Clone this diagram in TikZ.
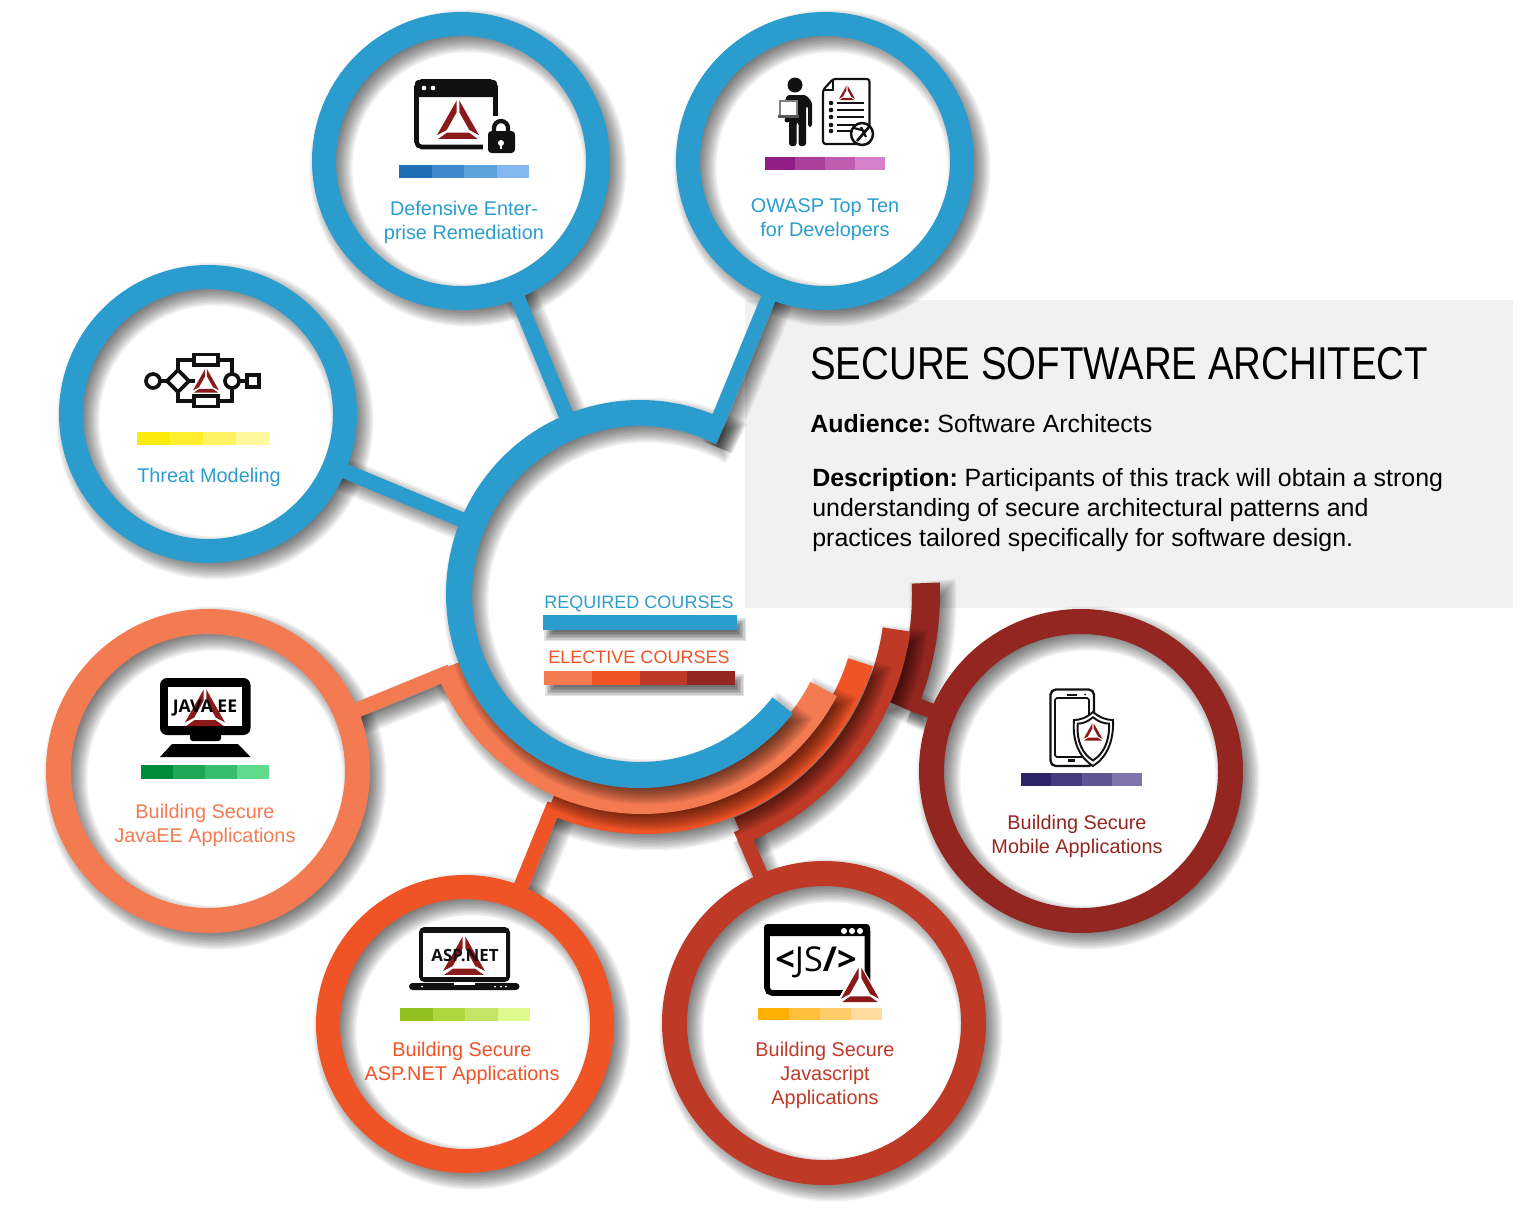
\documentclass[tikz,border=0pt]{standalone}
\usepackage{fontspec}
\setmainfont{Liberation Sans}
\newfontfamily\titlefont[FakeStretch=0.835]{Liberation Sans}
\newfontfamily\iconfont{Open Sans}
\definecolor{cBlue}{HTML}{2A9DCE}
\definecolor{cLight}{HTML}{F47A52}
\definecolor{cOrange}{HTML}{EF5326}
\definecolor{cRed}{HTML}{BE3A27}
\definecolor{cDark}{HTML}{932620}
\definecolor{cLogo}{HTML}{8A1A1A}
\definecolor{cPanel}{HTML}{F1F1F1}
\definecolor{cInk}{HTML}{111111}
\definecolor{B1}{HTML}{1F6FB7}\definecolor{B2}{HTML}{3F88CC}\definecolor{B3}{HTML}{5CA3DE}\definecolor{B4}{HTML}{82B8EE}
\definecolor{P1}{HTML}{8F1D85}\definecolor{P2}{HTML}{A93F98}\definecolor{P3}{HTML}{BF5CB0}\definecolor{P4}{HTML}{D580C8}
\definecolor{Y1}{HTML}{FBEA0A}\definecolor{Y2}{HTML}{FFEE2E}\definecolor{Y3}{HTML}{FFF263}\definecolor{Y4}{HTML}{FFF89C}
\definecolor{G1}{HTML}{008B3B}\definecolor{G2}{HTML}{1FA657}\definecolor{G3}{HTML}{36BE6E}\definecolor{G4}{HTML}{5FDB8E}
\definecolor{L1}{HTML}{93C01F}\definecolor{L2}{HTML}{AED73D}\definecolor{L3}{HTML}{C4E468}\definecolor{L4}{HTML}{DDF98E}
\definecolor{A1}{HTML}{FFB000}\definecolor{A2}{HTML}{FFBF3A}\definecolor{A3}{HTML}{FFCC6A}\definecolor{A4}{HTML}{FFDB9C}
\definecolor{V1}{HTML}{2C2466}\definecolor{V2}{HTML}{453A7C}\definecolor{V3}{HTML}{5F5592}\definecolor{V4}{HTML}{7F74AB}
\tikzset{
  anch/.style={circle,inner sep=0pt,outer sep=0pt,minimum size={2*#1*0.569pt}},
  lw/.style={line width={max(#1+\shx,0.5)*0.569pt}},
  lbl/.style={align=center,inner sep=0pt,font=\fontsize{11.3}{13.66}\selectfont},
  legendtxt/.style={inner sep=0pt,font=\fontsize{10.25}{13}\selectfont},
  bodytxt/.style={anchor=west,inner sep=0pt,align=left,font=\fontsize{14.2}{17.07}\selectfont},
}
\def\shx{0}
\def\gc{black}
% \hubarc{from}{to}{radius}{width}{centre x}
\newcommand\hubarc[5]{\pgfmathsetmacro\hubA{#1-\shx*28.65/#3}\pgfmathsetmacro\hubB{#2+\shx*28.65/#3}%
  \draw[draw=\gc,lw=#4] plot[domain=\hubA:\hubB,samples=100,smooth] ({#5+#3*cos(\x)},{594+#3*sin(\x)});}
\newcommand\ringdraw[3]{\draw[draw=\gc,lw=#3] (#1.center) circle[radius=#2];}
\newcommand\softshadow[1]{\foreach \shx in {-20,-17,...,19}{\begin{scope}[transform canvas={shift={(7,7)}},opacity=.056]\def\gc{black}#1\end{scope}}}
\newcommand\layer[2]{\softshadow{#2}\begin{scope}\def\shx{0}\def\gc{#1}#2\end{scope}}
\newcommand\barshadow[4]{\foreach \shx in {-10,-7,...,8}{\begin{scope}[transform canvas={shift={(5,7)}},opacity=.11]
  \draw[draw=black,lw=#4] ({#1-\shx/2},#3) -- ({#2+\shx/2},#3);\end{scope}}}
\newcommand\colorbar[8]{%
  \fill[#5] (#1,#3) rectangle ({#1+(#2-#1)*.26},#4);
  \fill[#6] ({#1+(#2-#1)*.25},#3) rectangle ({#1+(#2-#1)*.51},#4);
  \fill[#7] ({#1+(#2-#1)*.5},#3) rectangle ({#1+(#2-#1)*.76},#4);
  \fill[#8] ({#1+(#2-#1)*.75},#3) rectangle (#2,#4);}
\newcommand\logomark[3]{\begin{scope}[shift={(#1,#2)},scale=#3]
  \fill[cLogo] (-.035,-.46) -- (-.035,-.18) -- (-.27,.24) -- (-.5,.36) -- cycle;
  \fill[cLogo] (.035,-.46) -- (.035,-.18) -- (.27,.24) -- (.5,.36) -- cycle;
  \fill[cLogo] (-.26,.3) -- (.26,.3) -- (.47,.45) -- (-.47,.45) -- cycle;
\end{scope}}
\begin{document}
\begin{tikzpicture}[x=0.02cm,y=-0.02cm]
\useasboundingbox (0,0) rectangle (1528,1227);
% anchors
\node[anch=137] (def) at (461,161) {};
\node[anch=137] (owasp) at (825,161) {};
\node[anch=137] (threat) at (208,414) {};
\node[anch=149.5] (java) at (208,771) {};
\node[anch=137] (asp) at (465,1024) {};
\node[anch=149.5] (js) at (824,1023) {};
\node[anch=149.5] (mobile) at (1081,771) {};
\node[anch=181] (hubBlue) at (640,594) {};
\node[anch=205] (hubLight) at (640,594) {};
\node[anch=227] (hubOrange) at (640,594) {};
\node[anch=256] (hubRed) at (640,594) {};
\node[anch=286] (hubDark) at (640,594) {};
\coordinate (owFoot) at (710,440);
% panel
\fill[cPanel] (745,300) rectangle (1513,608);
% dark layer
\layer{cDark}{
  \draw[draw=\gc,lw=15] (mobile) -- (hubDark);
  \hubarc{-2.2}{23.4}{286}{28}{640}
  \ringdraw{mobile}{149.5}{25}
}
\layer{cRed}{
  \draw[draw=\gc,lw=15] (js) -- (hubRed);
  \hubarc{8}{68}{255}{28}{644}
  \ringdraw{js}{149.5}{25}
}
\layer{cOrange}{
  \draw[draw=\gc,lw=15] (asp) -- (hubOrange);
  \hubarc{17.5}{114}{227}{26}{644}
  \ringdraw{asp}{137}{24}
}
\layer{cLight}{
  \draw[draw=\gc,lw=15] (java) -- (hubLight);
  \hubarc{27.6}{159.5}{205}{30}{642}
  \ringdraw{java}{149.5}{25}
}
\layer{cBlue}{
  \draw[draw=\gc,lw=15] (threat) -- (hubBlue);
  \draw[draw=\gc,lw=15] (def) -- (hubBlue);
  \draw[draw=\gc,lw=15] (owasp) -- (owFoot);
  \hubarc{38}{296.6}{181}{26}{640}
  \ringdraw{threat}{137}{24}
  \ringdraw{def}{137}{24}
  \ringdraw{owasp}{137}{24}
}
% legend
\node[legendtxt,text=cBlue] (reqtxt) at (639,604) {REQUIRED COURSES};
\barshadow{543}{737}{622.5}{15}
\fill[cBlue] (543,615) rectangle (737,630);
\node[legendtxt,text=cOrange] (eletxt) at (639,657) {ELECTIVE COURSES};
\barshadow{544}{735}{678}{14}
\colorbar{544}{735}{671}{685}{cLight}{cOrange}{cRed}{cDark}
% colour bars
\colorbar{399}{529}{165}{178}{B1}{B2}{B3}{B4}
\colorbar{765}{885}{157}{170}{P1}{P2}{P3}{P4}
\colorbar{137}{269}{432}{445}{Y1}{Y2}{Y3}{Y4}
\colorbar{141}{269}{765}{779}{G1}{G2}{G3}{G4}
\colorbar{400}{530}{1008}{1021}{L1}{L2}{L3}{L4}
\colorbar{758}{882}{1008}{1020}{A1}{A2}{A3}{A4}
\colorbar{1021}{1142}{773}{786}{V1}{V2}{V3}{V4}
% labels
\node[lbl,text=cBlue] (lDef) at (464,222) {Defensive Enter-\\prise Remediation};
\node[lbl,text=cBlue] (lOwasp) at (825,220) {OWASP Top Ten\\for Developers};
\node[lbl,text=cBlue] (lThreat) at (209,477) {Threat Modeling};
\node[lbl,text=cLight] (lJava) at (205,825) {Building Secure\\JavaEE Applications};
\node[lbl,text=cOrange] (lAsp) at (462,1063) {Building Secure\\ASP.NET Applications};
\node[lbl,text=cRed] (lJs) at (825,1075) {Building Secure\\Javascript\\Applications};
\node[lbl,text=cDark] (lMob) at (1077,836) {Building Secure\\Mobile Applications};
% panel text
\node[anchor=west,inner sep=0pt,font=\titlefont\fontsize{26.2}{30}\selectfont] (title) at (810,364) {SECURE SOFTWARE ARCHITECT};
\node[bodytxt] (aud) at (810,424) {\textbf{Audience:}\kern-1.6pt{} Software Architects};
\node[bodytxt] (desc) at (812,510) {\textbf{Description:}\kern-1.4pt{} Participants of this track will obtain a strong\\understanding of secure architectural patterns and\\practices tailored specifically for software design.};
% icon: defensive
\draw[cInk,line width=2.6pt,rounded corners=3pt,fill=white] (416.5,81.5) rectangle (495.5,147);
\fill[cInk,rounded corners=2pt] (415,80) rectangle (497,97);
\fill[white] (424,88) circle[radius=2.3] (433,88) circle[radius=2.3];
\logomark{458}{120}{42}
\fill[white,rounded corners=4pt] (483,116) rectangle (520,158);
\draw[cInk,line width=2.4pt] (494,133) -- (494,128) arc[start angle=180,end angle=360,radius=7] -- (508,133);
\fill[cInk,rounded corners=2pt] (488,131) rectangle (515,153);
\fill[white] (501,143) circle[radius=3]; \fill[white] (500,144) rectangle (502,149);
% icon: owasp
\fill[cInk] (795,85) circle[radius=7.5];
\fill[cInk,rounded corners=1.5pt] (787,95) -- (806,95) -- (812,102) -- (812,127) -- (808,127) -- (808,106) -- (806,106) -- (806,146) -- (798.5,146) -- (798.5,122) -- (796.5,122) -- (796.5,146) -- (789,146) -- (789,118) -- (785,118) -- (785,100) -- cycle;
\draw[gray,fill=white,line width=.6pt] (780,101) rectangle (797,116);
\draw[cInk!70,line width=1.4pt] (778,116.5) -- (799,116.5);
\fill[cInk] (787,120) circle[radius=2.5];
\draw[cInk,line width=1.2pt,rounded corners=1.5pt,fill=white] (833,79) -- (869.5,79) -- (869.5,144) -- (823,144) -- (823,90) -- cycle;
\draw[cInk,line width=1pt] (833,79) -- (833,90) -- (823,90);
\logomark{847}{93}{16}
\foreach \yy in {103,110,117,125,131}{\fill[cInk] (831,\yy) circle[radius=2.3];}
\foreach \yy/\xx in {103/864,110/864,117/864,125/859}{\draw[cInk,line width=.9pt] (837,\yy) -- (\xx,\yy);}
\draw[cInk,line width=.9pt] (837,131) -- (852,131);
\draw[cInk,line width=1.4pt,fill=white] (862,134) circle[radius=11];
\draw[cInk,line width=1.5pt] (869,127) -- (857,141);
\draw[cInk,line width=1.2pt] (854,128) -- (865,131) (866,137) -- (861,127);
% icon: threat
\begin{scope}[cInk,line width=2.1pt]
\draw (153,381) circle[radius=7] (160,381) -- (167,381);
\draw[fill=white] (178,370) -- (189,381) -- (178,392) -- (167,381) -- cycle;
\draw (189,381) -- (195,381);
\draw (178,370) -- (178,360) -- (193,360);
\draw (178,392) -- (178,401) -- (193,401);
\draw (194,354.5) rectangle (218,365);
\draw (194,396) rectangle (218,406.5);
\draw (218,360) -- (232,360) -- (232,374);
\draw (218,401) -- (232,401) -- (232,388);
\draw (232,381) circle[radius=7] (239,381) -- (247,381);
\draw (247,375) rectangle (259,387);
\end{scope}
\logomark{206}{381}{26}
% icon: java
\fill[black,rounded corners=4pt] (160,678) rectangle (250.5,735);
\fill[white] (168,687) rectangle (242,726);
\fill[black,rounded corners=1.5pt] (190,733) rectangle (221,741);
\fill[black] (160,757) -- (172,744) -- (238,744) -- (250.5,757) -- cycle;
\logomark{205}{708}{40}
\node[inner sep=0pt,text=black,font=\iconfont\bfseries\fontsize{10}{12}\selectfont] (tJava) at (205,708) {JAVA EE};
% icon: asp
\fill[cInk,rounded corners=3pt] (419,927) rectangle (510,982);
\fill[white] (423,933) rectangle (506,977);
\fill[cInk,rounded corners=2pt] (409,983) rectangle (519.5,990);
\fill[white] (454,982) rectangle (475,984.5);
\foreach \xx in {422,495,501,506}{\fill[white] (\xx,986.5) circle[radius=1];}
\logomark{464}{956}{42}
\node[inner sep=0pt,text=cInk,font=\iconfont\bfseries\fontsize{9.6}{12}\selectfont] (tAsp) at (465,955) {ASP.NET};
% icon: js
\draw[black,line width=3.2pt,rounded corners=3pt,fill=white] (767,927) rectangle (867.5,993);
\fill[black,rounded corners=2pt] (764,924) rectangle (870,936);
\fill[white] (844,931) circle[radius=3] (852,931) circle[radius=3] (860,931) circle[radius=3];
\node[inner sep=0pt,text=black,font=\iconfont\fontsize{19.5}{20}\selectfont] (tJs) at (816,962) {\textbf{<}JS\textbf{/>}};
\fill[white] (859,962) -- (884,1003) -- (836,1003) -- cycle;
\logomark{860}{985}{38}
% icon: mobile
\begin{scope}[cInk]
\draw[line width=1.3pt,rounded corners=3pt] (1050.5,689.5) rectangle (1094,766);
\draw[line width=.9pt,rounded corners=1pt] (1055,698) rectangle (1089,757);
\draw[line width=1.2pt] (1067,695) -- (1077,695) (1068,760.5) -- (1075,760.5);
\fill (1085,694.5) circle[radius=1];
\draw[line width=1.1pt,fill=white] (1093,712) .. controls (1100,718) and (1107,720) .. (1113,720) .. controls (1114,742) and (1106,758) .. (1093,766) .. controls (1080,758) and (1072,742) .. (1074,720) .. controls (1080,720) and (1086,718) .. (1093,712) -- cycle;
\begin{scope}[shift={(1093,738)},scale=.8,shift={(-1093,-738)}]
\draw[line width=1.1pt] (1093,712) .. controls (1100,718) and (1107,720) .. (1113,720) .. controls (1114,742) and (1106,758) .. (1093,766) .. controls (1080,758) and (1072,742) .. (1074,720) .. controls (1080,720) and (1086,718) .. (1093,712) -- cycle;
\end{scope}
\end{scope}
\logomark{1093}{732}{19}
\end{tikzpicture}
\end{document}
